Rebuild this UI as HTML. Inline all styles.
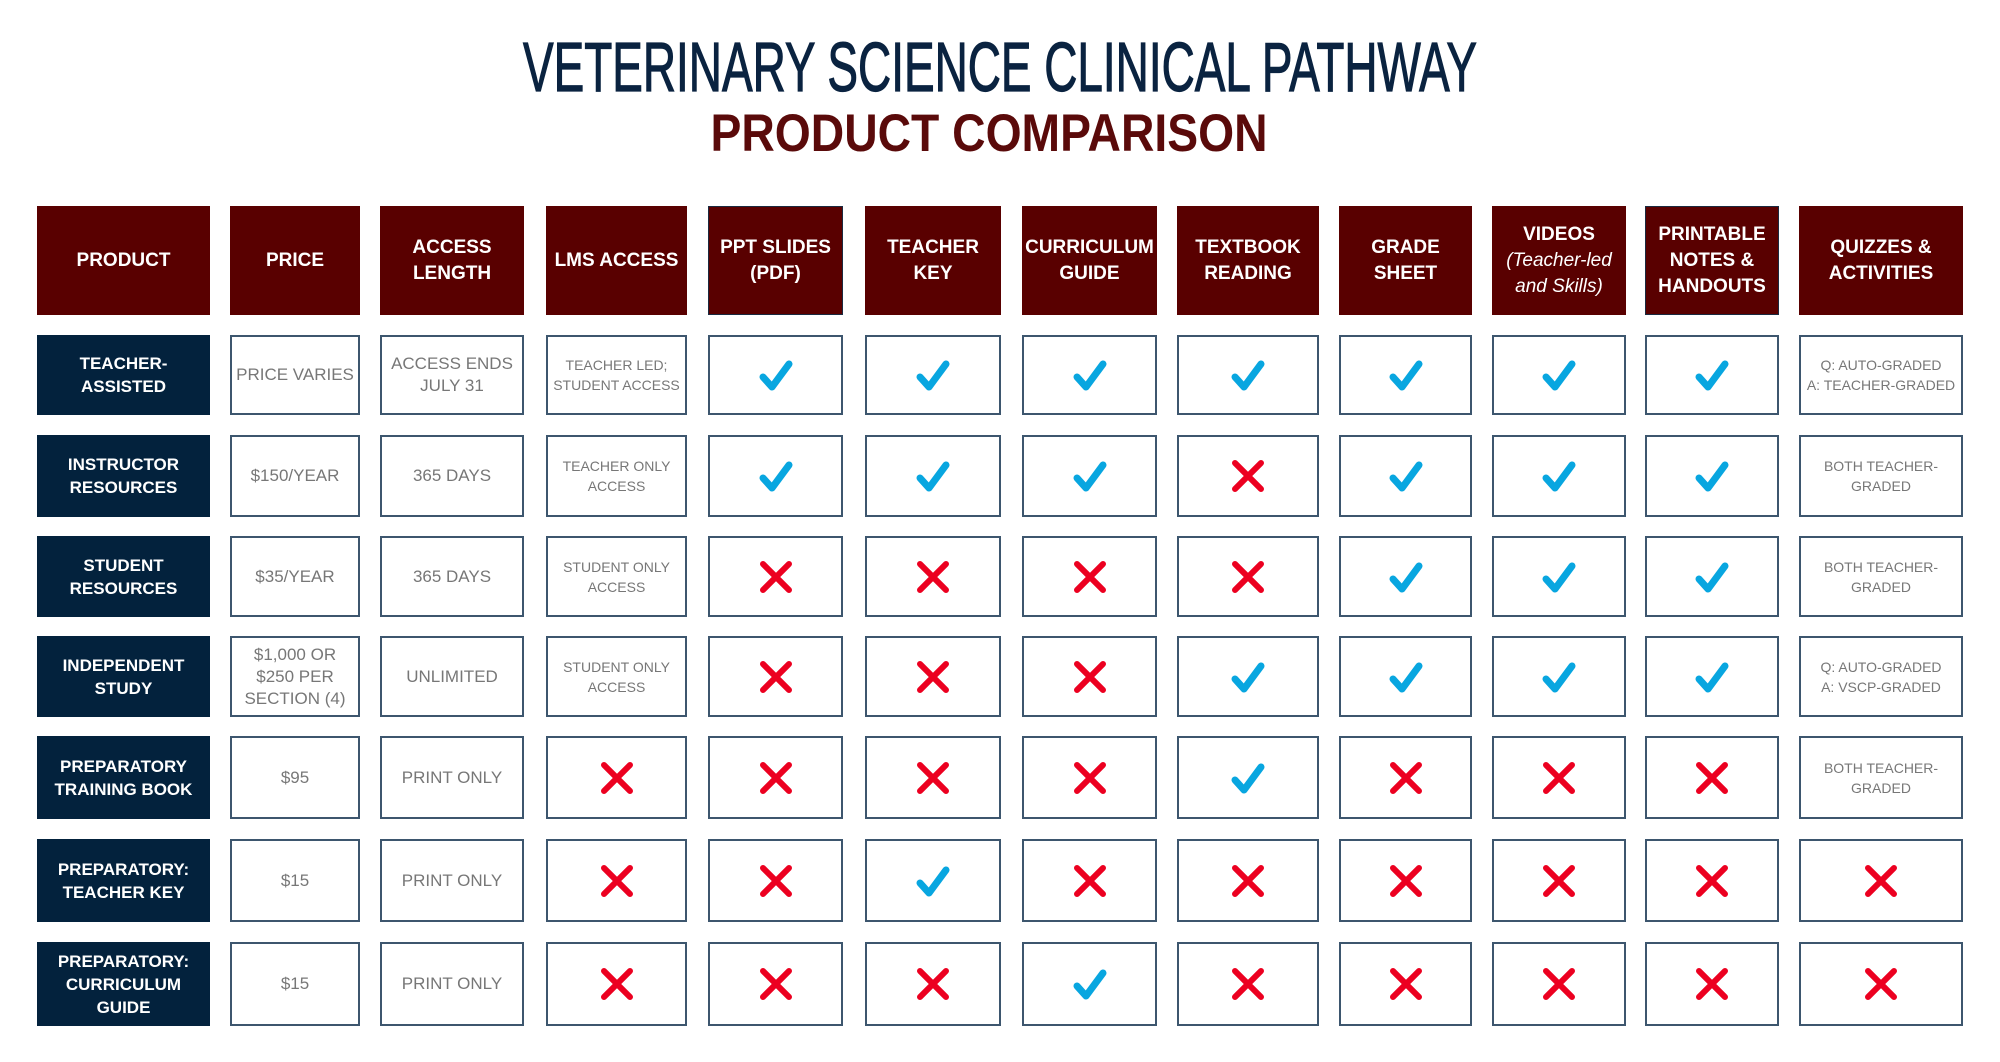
<!DOCTYPE html>
<html><head><meta charset="utf-8"><style>
html,body{margin:0;padding:0;background:#fff;width:2000px;height:1062px;overflow:hidden;position:relative;font-family:"Liberation Sans",sans-serif}
.c{position:absolute;box-sizing:border-box;display:flex;align-items:center;justify-content:center;text-align:center}
.h{background:#590000;color:#fff;font-weight:bold;font-size:19px;line-height:26px}
.p{background:#03223d;color:#fff;font-weight:bold;font-size:17px;line-height:23px}
.b{border:2px solid #3d566e;background:#fff;color:#777;font-size:17px;line-height:22px}
.s{font-size:14px;line-height:20px}
.c0{left:37px;width:173px}.c1{left:230px;width:130px}.c2{left:380px;width:144px}.c3{left:546px;width:141px}
.c4{left:708px;width:135px}.c5{left:865px;width:136px}.c6{left:1022px;width:135px}.c7{left:1177px;width:142px}
.c8{left:1339px;width:133px}.c9{left:1492px;width:134px}.c10{left:1645px;width:134px}.c11{left:1799px;width:164px}
.r0{top:206px;height:109px}.r1{top:335px;height:80px}.r2{top:435px;height:82px}.r3{top:536px;height:81px}
.r4{top:636px;height:81px}.r5{top:736px;height:83px}.r6{top:839px;height:83px}.r7{top:942px;height:84px}
.ck,.x{width:40px;height:38px}
</style></head><body>
<svg width="2000" height="170" style="position:absolute;left:0;top:0">
<text x="1000" y="91" text-anchor="middle" textLength="954" lengthAdjust="spacingAndGlyphs" font-family="Liberation Sans Narrow, Liberation Sans, sans-serif" font-size="70" fill="#0a2340" stroke="#0a2340" stroke-width="1.2">VETERINARY SCIENCE CLINICAL PATHWAY</text>
<text x="989" y="151" text-anchor="middle" textLength="557" lengthAdjust="spacingAndGlyphs" font-family="Liberation Sans, sans-serif" font-weight="bold" font-size="53" fill="#5a0a0a">PRODUCT COMPARISON</text>
</svg>
<svg width="0" height="0" style="position:absolute"><defs>
<g id="CK"><path d="M7 21 L16 31 L33 8" fill="none" stroke="#08a6e0" stroke-width="7" stroke-linecap="round" stroke-linejoin="round"/></g>
<g id="X"><path d="M7 6 L33 32 M33 6 L7 32" fill="none" stroke="#ec0020" stroke-width="6" stroke-linecap="round"/></g>
</defs></svg>

<div class="c h c0 r0">PRODUCT</div>
<div class="c h c1 r0">PRICE</div>
<div class="c h c2 r0">ACCESS<br>LENGTH</div>
<div class="c h c3 r0">LMS ACCESS</div>
<div class="c h c4 r0" style="border:1px solid #1a2a40">PPT SLIDES<br>(PDF)</div>
<div class="c h c5 r0">TEACHER<br>KEY</div>
<div class="c h c6 r0">CURRICULUM<br>GUIDE</div>
<div class="c h c7 r0">TEXTBOOK<br>READING</div>
<div class="c h c8 r0">GRADE<br>SHEET</div>
<div class="c h c9 r0"><div>VIDEOS<br><i style="font-weight:normal">(Teacher-led<br>and Skills)</i></div></div>
<div class="c h c10 r0" style="border:1px solid #1a2a40">PRINTABLE<br>NOTES &amp;<br>HANDOUTS</div>
<div class="c h c11 r0">QUIZZES &amp;<br>ACTIVITIES</div>

<div class="c p c0 r1">TEACHER-<br>ASSISTED</div>
<div class="c p c0 r2">INSTRUCTOR<br>RESOURCES</div>
<div class="c p c0 r3">STUDENT<br>RESOURCES</div>
<div class="c p c0 r4">INDEPENDENT<br>STUDY</div>
<div class="c p c0 r5">PREPARATORY<br>TRAINING BOOK</div>
<div class="c p c0 r6">PREPARATORY:<br>TEACHER KEY</div>
<div class="c p c0 r7">PREPARATORY:<br>CURRICULUM<br>GUIDE</div>

<div class="c b c1 r1">PRICE VARIES</div>
<div class="c b c2 r1">ACCESS ENDS<br>JULY 31</div>
<div class="c b s c3 r1">TEACHER LED;<br>STUDENT ACCESS</div>
<div class="c b s c11 r1">Q: AUTO-GRADED<br>A: TEACHER-GRADED</div>

<div class="c b c1 r2">$150/YEAR</div>
<div class="c b c2 r2">365 DAYS</div>
<div class="c b s c3 r2">TEACHER ONLY<br>ACCESS</div>
<div class="c b s c11 r2">BOTH TEACHER-<br>GRADED</div>

<div class="c b c1 r3">$35/YEAR</div>
<div class="c b c2 r3">365 DAYS</div>
<div class="c b s c3 r3">STUDENT ONLY<br>ACCESS</div>
<div class="c b s c11 r3">BOTH TEACHER-<br>GRADED</div>

<div class="c b c1 r4">$1,000 OR<br>$250 PER<br>SECTION (4)</div>
<div class="c b c2 r4">UNLIMITED</div>
<div class="c b s c3 r4">STUDENT ONLY<br>ACCESS</div>
<div class="c b s c11 r4">Q: AUTO-GRADED<br>A: VSCP-GRADED</div>

<div class="c b c1 r5">$95</div>
<div class="c b c2 r5">PRINT ONLY</div>
<div class="c b s c11 r5">BOTH TEACHER-<br>GRADED</div>

<div class="c b c1 r6">$15</div>
<div class="c b c2 r6">PRINT ONLY</div>
<div class="c b c1 r7">$15</div>
<div class="c b c2 r7">PRINT ONLY</div>

<!-- row1 -->
<div class="c b c4 r1"><svg class="ck"><use href="#CK"/></svg></div>
<div class="c b c5 r1"><svg class="ck"><use href="#CK"/></svg></div>
<div class="c b c6 r1"><svg class="ck"><use href="#CK"/></svg></div>
<div class="c b c7 r1"><svg class="ck"><use href="#CK"/></svg></div>
<div class="c b c8 r1"><svg class="ck"><use href="#CK"/></svg></div>
<div class="c b c9 r1"><svg class="ck"><use href="#CK"/></svg></div>
<div class="c b c10 r1"><svg class="ck"><use href="#CK"/></svg></div>
<!-- row2 -->
<div class="c b c4 r2"><svg class="ck"><use href="#CK"/></svg></div>
<div class="c b c5 r2"><svg class="ck"><use href="#CK"/></svg></div>
<div class="c b c6 r2"><svg class="ck"><use href="#CK"/></svg></div>
<div class="c b c7 r2"><svg class="x"><use href="#X"/></svg></div>
<div class="c b c8 r2"><svg class="ck"><use href="#CK"/></svg></div>
<div class="c b c9 r2"><svg class="ck"><use href="#CK"/></svg></div>
<div class="c b c10 r2"><svg class="ck"><use href="#CK"/></svg></div>
<!-- row3 -->
<div class="c b c4 r3"><svg class="x"><use href="#X"/></svg></div>
<div class="c b c5 r3"><svg class="x"><use href="#X"/></svg></div>
<div class="c b c6 r3"><svg class="x"><use href="#X"/></svg></div>
<div class="c b c7 r3"><svg class="x"><use href="#X"/></svg></div>
<div class="c b c8 r3"><svg class="ck"><use href="#CK"/></svg></div>
<div class="c b c9 r3"><svg class="ck"><use href="#CK"/></svg></div>
<div class="c b c10 r3"><svg class="ck"><use href="#CK"/></svg></div>
<!-- row4 -->
<div class="c b c4 r4"><svg class="x"><use href="#X"/></svg></div>
<div class="c b c5 r4"><svg class="x"><use href="#X"/></svg></div>
<div class="c b c6 r4"><svg class="x"><use href="#X"/></svg></div>
<div class="c b c7 r4"><svg class="ck"><use href="#CK"/></svg></div>
<div class="c b c8 r4"><svg class="ck"><use href="#CK"/></svg></div>
<div class="c b c9 r4"><svg class="ck"><use href="#CK"/></svg></div>
<div class="c b c10 r4"><svg class="ck"><use href="#CK"/></svg></div>
<!-- row5 -->
<div class="c b c3 r5"><svg class="x"><use href="#X"/></svg></div>
<div class="c b c4 r5"><svg class="x"><use href="#X"/></svg></div>
<div class="c b c5 r5"><svg class="x"><use href="#X"/></svg></div>
<div class="c b c6 r5"><svg class="x"><use href="#X"/></svg></div>
<div class="c b c7 r5"><svg class="ck"><use href="#CK"/></svg></div>
<div class="c b c8 r5"><svg class="x"><use href="#X"/></svg></div>
<div class="c b c9 r5"><svg class="x"><use href="#X"/></svg></div>
<div class="c b c10 r5"><svg class="x"><use href="#X"/></svg></div>
<!-- row6 -->
<div class="c b c3 r6"><svg class="x"><use href="#X"/></svg></div>
<div class="c b c4 r6"><svg class="x"><use href="#X"/></svg></div>
<div class="c b c5 r6"><svg class="ck"><use href="#CK"/></svg></div>
<div class="c b c6 r6"><svg class="x"><use href="#X"/></svg></div>
<div class="c b c7 r6"><svg class="x"><use href="#X"/></svg></div>
<div class="c b c8 r6"><svg class="x"><use href="#X"/></svg></div>
<div class="c b c9 r6"><svg class="x"><use href="#X"/></svg></div>
<div class="c b c10 r6"><svg class="x"><use href="#X"/></svg></div>
<div class="c b c11 r6"><svg class="x"><use href="#X"/></svg></div>
<!-- row7 -->
<div class="c b c3 r7"><svg class="x"><use href="#X"/></svg></div>
<div class="c b c4 r7"><svg class="x"><use href="#X"/></svg></div>
<div class="c b c5 r7"><svg class="x"><use href="#X"/></svg></div>
<div class="c b c6 r7"><svg class="ck"><use href="#CK"/></svg></div>
<div class="c b c7 r7"><svg class="x"><use href="#X"/></svg></div>
<div class="c b c8 r7"><svg class="x"><use href="#X"/></svg></div>
<div class="c b c9 r7"><svg class="x"><use href="#X"/></svg></div>
<div class="c b c10 r7"><svg class="x"><use href="#X"/></svg></div>
<div class="c b c11 r7"><svg class="x"><use href="#X"/></svg></div>
</body></html>
